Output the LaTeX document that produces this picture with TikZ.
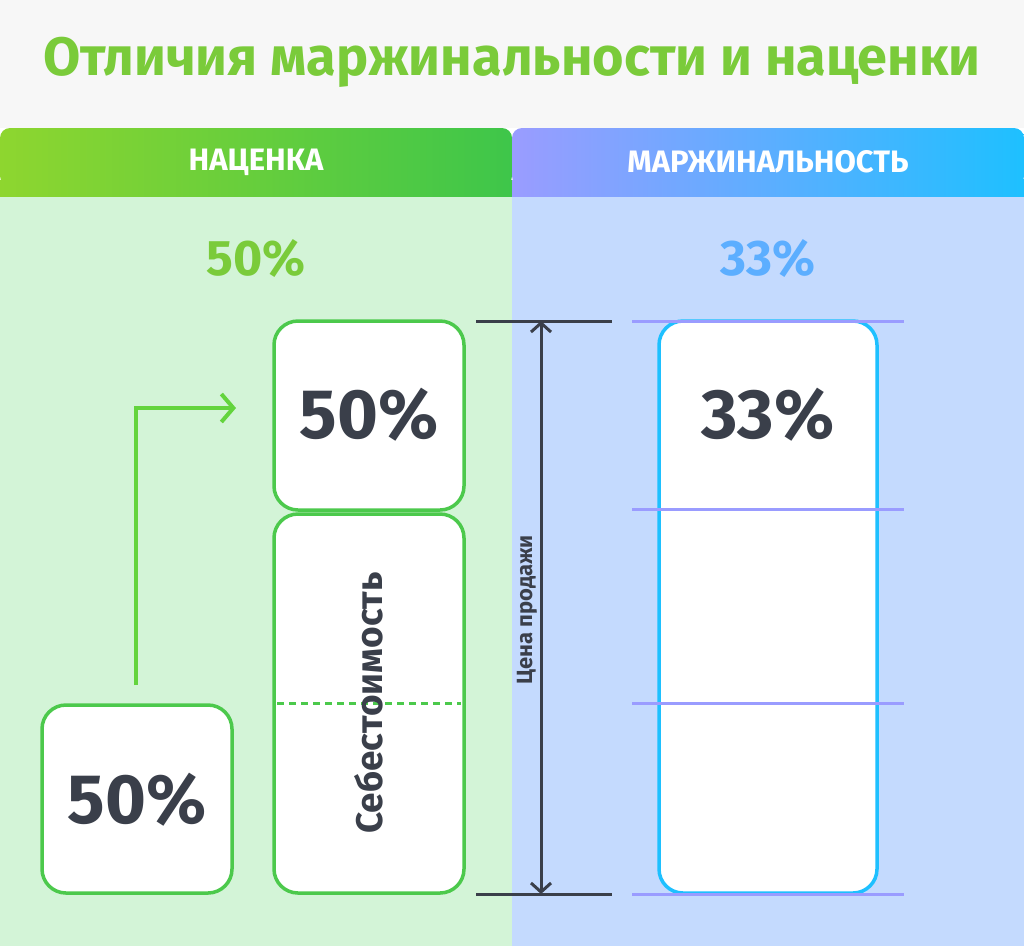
\documentclass[tikz,border=0pt]{standalone}
\usepackage{fontspec}
\setmainfont{Fira Sans}
\usetikzlibrary{arrows.meta}
\definecolor{tgreen}{HTML}{7ACB3A}
\definecolor{bgreen}{HTML}{4CC94C}
\definecolor{hg1}{HTML}{8ED62F}
\definecolor{hg2}{HTML}{3EC64A}
\definecolor{lgreen}{HTML}{D3F4D7}
\definecolor{lblue}{HTML}{C4DAFE}
\definecolor{lav}{HTML}{9A9CFF}
\definecolor{cyan1}{HTML}{1EC0FF}
\definecolor{dark}{HTML}{3A3F4A}
\tikzset{
 box/.style={draw=bgreen,line width=3.5pt,fill=white,rounded corners=24pt},
 big/.style={font=\fontsize{70}{70}\selectfont\bfseries,text=dark},
 head/.style={font=\fontsize{31}{31}\selectfont\bfseries,text=white},
 pct/.style={font=\fontsize{50}{50}\selectfont\bfseries},
 gline/.style={draw=lav,line width=3pt},
 dim/.style={draw=dark,line width=3pt}
}
\begin{document}
\begin{tikzpicture}[x=1pt,y=-1pt]
\useasboundingbox (0,0) rectangle (1024,946);
\fill[white!97!black] (0,0) rectangle (1024,128);
\node[font=\fontsize{54}{54}\selectfont\bfseries,text=tgreen] (title) at (512,62) {Отличия маржинальности и наценки};
\fill[lgreen] (0,180) rectangle (512,946);
\fill[lblue] (512,180) rectangle (1024,946);
\shade[left color=hg1,right color=hg2,rounded corners=10pt] (0,186) -- (0,128) -- (512,128) -- (512,186) -- cycle;
\shade[left color=lav,right color=cyan1,rounded corners=10pt] (512,186) -- (512,128) -- (1024,128) -- (1024,186) -- cycle;
\shade[left color=hg1,right color=hg2] (0,180) rectangle (512,196);
\shade[left color=lav,right color=cyan1] (512,180) rectangle (1024,196);
\node[head] (h1) at (256,162) {НАЦЕНКА};
\node[head] (h2) at (768,162) {МАРЖИНАЛЬНОСТЬ};
\node[pct,text=tgreen] (p1) at (256,258) {50\%};
\node[pct,text=lav!50!cyan1] (p2) at (768,258) {33\%};
% left boxes
\draw[box] (42,705) rectangle (232,893);
\node[big] (b1) at (137,800) {50\%};
\draw[box] (274,321) rectangle (464,510);
\node[big] (b2) at (369,415) {50\%};
\draw[box] (274,514) rectangle (464,893);
\draw[bgreen,line width=3pt,dash pattern=on 7pt off 5pt] (277,703) -- (461,703);
\node[font=\fontsize{37}{37}\selectfont\bfseries,text=dark,rotate=90] (seb) at (369,703) {Себестоимость};
% arrow
\coordinate (a0) at (136,685);
\coordinate (a1) at (136,408);
\coordinate (a2) at (236,408);
\draw[bgreen!80!lime,line width=4pt,-{Straight Barb[length=12pt,width=28pt,line width=4pt]}] (a0) -- (a1) -- (a2);
% dimension
\coordinate (d1) at (476,321); \coordinate (d2) at (612,321);
\coordinate (d3) at (476,894); \coordinate (d4) at (612,894);
\draw[dim] (d1) -- (d2); \draw[dim] (d3) -- (d4);
\coordinate (v1) at (541,321); \coordinate (v2) at (541,894);
\draw[dim,{Straight Barb[length=9pt,width=20pt]}-{Straight Barb[length=9pt,width=20pt]}] (v1) -- (v2);
\node[font=\fontsize{22}{22}\selectfont\bfseries,text=dark,rotate=90] (cena) at (527,610) {Цена продажи};
% right
\draw[draw=cyan1,line width=3.5pt,fill=white,rounded corners=24pt] (659,321) rectangle (877,893);
\foreach \yy/\n in {321/r1,509/r2,703/r3,894/r4}{
 \coordinate (\n a) at (632,\yy); \coordinate (\n b) at (904,\yy);
 \draw[gline] (\n a) -- (\n b);}
\node[big] (b3) at (768,415) {33\%};
\end{tikzpicture}
\end{document}
